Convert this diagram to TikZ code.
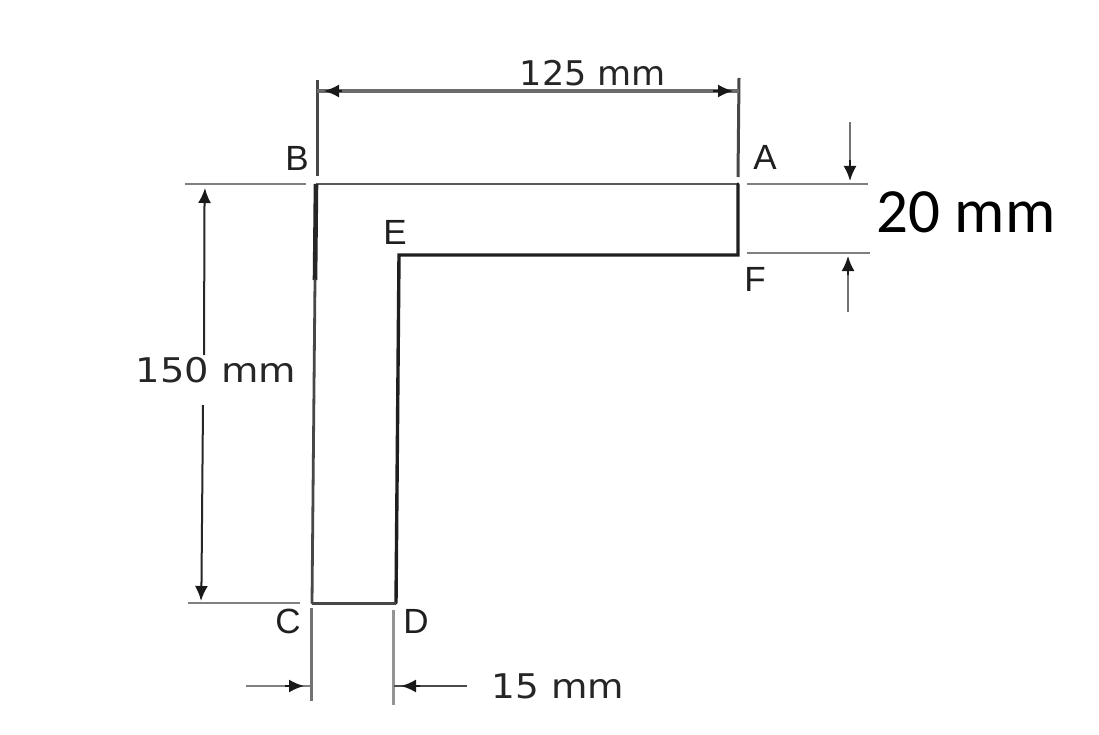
\documentclass[tikz,border=0pt]{standalone}
\usepackage{fontspec}
\setmainfont{DejaVu Sans}
\newfontfamily\labelfont{Liberation Sans}
\newfontfamily\calloutfont{Carlito}
\usetikzlibrary{arrows.meta}
\tikzset{
  outline/.style={line width=3.4pt,color=black!88,line cap=round},
  outlinethin/.style={line width=2.8pt,color=black!72,line cap=round},
  extline/.style={line width=2pt,color=black!50},
  extdark/.style={line width=3pt,color=black!72},
  dimline/.style={line width=2pt,color=black!70},
  dimbar/.style={line width=3.6pt,color=black!58},
  tip/.style={-{Latex[length=15pt,width=13pt]},line width=2pt,color=black!90},
  dimtext/.style={font=\fontsize{34}{44}\selectfont,text=black!85,inner sep=0pt,xscale=#1},
  pointlabel/.style={font=\labelfont\fontsize{35}{40}\selectfont,text=black!88,inner sep=0pt},
  callout/.style={font=\calloutfont\fontsize{63}{70}\selectfont,text=black,inner sep=0pt}
}
\begin{document}
\begin{tikzpicture}[x=1pt,y=-1pt]
\useasboundingbox[fill=white] (0,0) rectangle (1099,735);
% section outline
\coordinate (cB) at (316,184);
\coordinate (cA) at (738,184);
\coordinate (cF) at (738,255);
\coordinate (cE) at (399,255);
\coordinate (cD) at (396,603);
\coordinate (cC) at (312,603);
\coordinate (cBm) at (315,280);
\draw[line width=2.6pt,color=black!65] (cB) -- (cA);
\draw[outline] (cA) -- (cF) -- (cE) -- (cD);
\draw[line width=3pt,color=black!72] (cD) -- (cC);
\draw[line width=4.6pt,color=black!85] (cB) -- (cBm);
\draw[outlinethin] (cBm) -- (cC);
% extension lines
\coordinate (eBt) at (317,80);
\coordinate (eBb) at (317,176);
\coordinate (eAt) at (739,78);
\coordinate (eAb) at (738,177);
\coordinate (eBl) at (185,184);
\coordinate (eBr) at (306,184);
\coordinate (eAl) at (747,184);
\coordinate (eAr) at (868,184);
\coordinate (eFl) at (747,253);
\coordinate (eFr) at (870,253);
\coordinate (eCl) at (188,603);
\coordinate (eCr) at (300,603);
\coordinate (eCt) at (311,608);
\coordinate (eCb) at (311,701);
\coordinate (eDt) at (393,610);
\coordinate (eDb) at (393,705);
\draw[extdark] (eBt) -- (eBb);
\draw[extdark] (eAt) -- (eAb);
\draw[extline] (eBl) -- (eBr);
\draw[extline] (eAl) -- (eAr);
\draw[extline] (eFl) -- (eFr);
\draw[extline] (eCl) -- (eCr);
\draw[extdark,color=black!55] (eCt) -- (eCb);
\draw[extdark,color=black!42] (eDt) -- (eDb);
% 125 mm dimension
\coordinate (d1l) at (317,91);
\coordinate (d1r) at (739,91);
\coordinate (d1la) at (342,91);
\coordinate (d1lb) at (324,91);
\coordinate (d1ra) at (713,91);
\coordinate (d1rb) at (733,91);
\draw[dimbar] (d1l) -- (d1r);
\draw[tip] (d1la) -- (d1lb);
\draw[tip] (d1ra) -- (d1rb);
% 20 mm dimension
\coordinate (d2a) at (850,122);
\coordinate (d2am) at (850,160);
\coordinate (d2b) at (850,181);
\coordinate (d2c) at (848,312);
\coordinate (d2cm) at (848,275);
\coordinate (d2d) at (848,256);
\draw[dimline,color=black!55] (d2a) -- (d2am);
\draw[tip] (d2am) -- (d2b);
\draw[dimline,color=black!55] (d2c) -- (d2cm);
\draw[tip] (d2cm) -- (d2d);
% 150 mm dimension
\coordinate (d3t) at (205,188);
\coordinate (d3tm) at (204.5,205);
\coordinate (d3u) at (204,355);
\coordinate (d3l) at (203,405);
\coordinate (d3bm) at (201.5,582);
\coordinate (d3b) at (201,601);
\draw[dimline,color=black!85] (d3u) -- (d3tm);
\draw[tip] (d3tm) -- (d3t);
\draw[dimline,color=black!85] (d3l) -- (d3bm);
\draw[tip] (d3bm) -- (d3b);
% 15 mm dimension
\coordinate (d4a) at (246,686);
\coordinate (d4b) at (310,686);
\coordinate (d4bm) at (285,686);
\coordinate (d4bt) at (304,686);
\coordinate (d4c) at (467,686);
\coordinate (d4d) at (394,686);
\coordinate (d4dm) at (420,686);
\coordinate (d4dt) at (401,686);
\draw[extline] (d4a) -- (d4b);
\draw[tip] (d4bm) -- (d4bt);
\draw[extline,color=black!70] (d4c) -- (d4d);
\draw[tip] (d4dm) -- (d4dt);
% labels
\node[dimtext=1.03] (t125) at (593,73) {125 mm};
\node[dimtext=1.13] (t150) at (216,370) {150 mm};
\node[dimtext=1.10] (t15) at (558,686) {15 mm};
\node[callout] (t20) at (966,212) {20 mm};
\node[pointlabel] (lA) at (765,157) {A};
\node[pointlabel] (lB) at (297,158) {B};
\node[pointlabel] (lC) at (288,621) {C};
\node[pointlabel] (lD) at (416,621) {D};
\node[pointlabel] (lE) at (395,232) {E};
\node[pointlabel] (lF) at (755,279) {F};
\end{tikzpicture}
\end{document}
